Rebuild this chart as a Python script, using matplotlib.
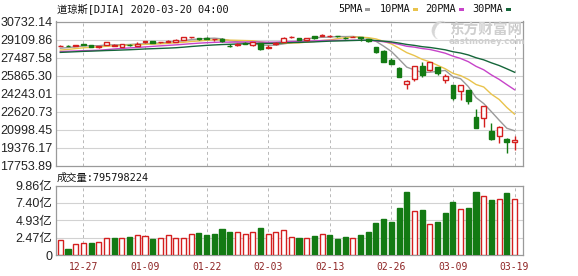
import numpy as np
import pandas as pd
import matplotlib
matplotlib.use('Agg')
import matplotlib.pyplot as plt
from matplotlib.patches import Rectangle

# ---------------- data ----------------
dates = ['12-23', '12-24', '12-26', '12-27', '12-30', '12-31', '01-02', '01-03', '01-06', '01-07',
         '01-08', '01-09', '01-10', '01-13', '01-14', '01-15', '01-16', '01-17', '01-21', '01-22',
         '01-23', '01-24', '01-27', '01-28', '01-29', '01-30', '01-31', '02-03', '02-04', '02-05',
         '02-06', '02-07', '02-10', '02-11', '02-12', '02-13', '02-14', '02-18', '02-19', '02-20',
         '02-21', '02-24', '02-25', '02-26', '02-27', '02-28', '03-02', '03-03', '03-04', '03-05',
         '03-06', '03-09', '03-10', '03-11', '03-12', '03-13', '03-16', '03-17', '03-18', '03-19']

opens = [28491.78, 28572.57, 28539.46, 28675.34, 28654.76, 28414.64, 28638.97, 28553.33, 28465.50, 28639.18,
         28556.14, 28851.41, 28977.11, 28874.82, 28899.00, 28924.30, 29109.43, 29313.31, 29274.03, 29263.31,
         29121.00, 29202.26, 28542.49, 28602.56, 28820.53, 28640.16, 28813.04, 28319.65, 28696.63, 28933.81,
         29361.50, 29286.92, 29094.73, 29390.91, 29406.75, 29420.97, 29440.47, 29279.14, 29313.39, 29329.07,
         29146.01, 28402.93, 28093.79, 27246.99, 26571.87, 25116.57, 25590.51, 26762.47, 26383.68, 26671.92,
         25457.21, 24992.36, 24453.00, 24604.63, 22184.71, 22050.00, 20910.00, 20460.00, 20220.00, 19950.00]

highs = [28582.49, 28576.80, 28624.10, 28701.66, 28664.69, 28547.35, 28872.80, 28716.31, 28708.02, 28685.50,
         28866.18, 28988.01, 29009.07, 28908.03, 29064.00, 29127.00, 29300.32, 29373.62, 29283.00, 29373.00,
         29187.00, 29236.00, 28674.00, 28789.00, 28894.00, 28873.00, 28813.04, 28592.00, 28856.00, 29306.00,
         29408.00, 29286.92, 29277.00, 29415.00, 29568.00, 29501.00, 29463.00, 29366.00, 29407.00, 29371.00,
         29146.01, 28402.93, 28157.00, 27492.00, 26643.00, 25494.00, 26706.17, 27084.59, 27102.34, 26671.92,
         25994.38, 24992.36, 25020.99, 24604.63, 22837.95, 23185.62, 21650.00, 21350.00, 20300.00, 20460.00]

lows = [28491.78, 28503.21, 28535.15, 28608.98, 28428.98, 28376.49, 28627.77, 28500.36, 28418.63, 28565.28,
        28522.51, 28844.31, 28789.68, 28768.00, 28882.00, 28889.00, 29055.00, 29265.00, 29107.00, 29170.00,
        28966.00, 28870.00, 28440.00, 28563.00, 28703.00, 28504.00, 28169.00, 28319.65, 28589.00, 28933.81,
        29246.00, 29056.00, 29022.00, 29190.00, 29406.75, 29328.00, 29299.00, 29128.00, 29313.39, 28941.00,
        28878.00, 27912.00, 27050.00, 26951.00, 25762.00, 24681.01, 25391.11, 25706.28, 26286.31, 25943.33,
        25226.62, 23706.07, 23690.34, 23328.32, 21154.46, 21285.37, 20116.42, 19860.00, 18917.46, 19173.98]

closes = [28551.53, 28515.45, 28621.39, 28645.26, 28462.14, 28538.44, 28868.80, 28634.88, 28703.38, 28583.68,
          28745.09, 28956.90, 28823.77, 28907.05, 28939.67, 29030.22, 29297.64, 29348.10, 29196.04, 29186.27,
          29160.09, 28989.73, 28535.80, 28722.85, 28734.45, 28859.44, 28256.03, 28399.81, 28807.63, 29290.85,
          29379.77, 29102.51, 29276.82, 29276.34, 29551.42, 29423.31, 29398.08, 29232.19, 29348.03, 29219.98,
          28992.41, 27960.80, 27081.36, 26957.59, 25766.64, 25409.36, 26703.32, 25917.41, 27090.86, 26121.28,
          25864.78, 23851.02, 25018.16, 23553.22, 21200.62, 23185.62, 20188.52, 21237.38, 19898.92, 20087.19]

# closes of the 29 sessions before 12-23 (oldest first), used for the moving averages
prior_closes = [27681.24, 27691.49, 27691.49, 27783.59, 27781.96, 28004.89, 28036.22, 27934.02, 27821.09, 27766.29,
                27875.62, 28066.47, 28121.68, 28164.00, 28051.41, 27783.04, 27502.81, 27649.78, 27677.79, 28015.06,
                27909.60, 27881.72, 27911.30, 28132.05, 28135.38, 28235.89, 28267.16, 28239.28, 28376.96]
prev_close_first = 28455.09

volumes = [2.11, 0.85, 1.55, 1.73, 1.73, 1.88, 2.35, 2.35, 2.35, 2.58,
           2.82, 2.68, 2.25, 2.35, 2.82, 2.44, 2.44, 3.05, 3.14, 2.82,
           3.05, 3.66, 3.28, 3.20, 2.96, 3.20, 3.90, 2.96, 3.20, 3.52,
           2.50, 2.40, 2.40, 2.70, 2.95, 2.85, 2.30, 2.55, 2.40, 2.85,
           3.20, 4.60, 5.10, 4.75, 6.60, 9.00, 6.20, 6.35, 4.40, 4.75,
           5.95, 7.55, 6.50, 6.65, 9.00, 8.30, 7.75, 7.90, 8.80, 7.96]

price_ticks = [17753.89, 19376.17, 20998.45, 22620.73, 24243.01, 25865.30, 27487.58, 29109.86, 30732.14]
vol_ticks = [0, 2.465, 4.93, 7.395, 9.86]
vol_tick_labels = ['0', '2.47亿', '4.93亿', '7.40亿', '9.86亿']
date_labels = ['12-27', '01-09', '01-22', '02-03', '02-13', '02-26', '03-09', '03-19']
ma_periods = [5, 10, 20, 30]
ma_names = ['5PMA', '10PMA', '20PMA', '30PMA']
title = '道琼斯[DJIA] 2020-03-20 04:00'
vol_title = '成交量:795798224'

# ---------------- style ----------------
W, H = 578, 276
RED = '#d41f1f'
GREEN = '#137a13'
MA_COLORS = ['#9a9a9a', '#e9c34c', '#c744c9', '#15663a']
GRID = '#d2d2d2'
SPINE = '#9a9a9a'
DATE_COLOR = '#8e2424'
MONO = ['DejaVu Sans Mono', 'Noto Sans CJK SC']
SANS = ['Liberation Sans', 'Noto Sans CJK SC']


def fx(px):
    return px / W


def fy(py):
    return 1 - py / H


fig = plt.figure(figsize=(W / 100, H / 100), dpi=100)
fig.patch.set_facecolor('white')

left, right = 56, 523
axp = fig.add_axes([fx(left), fy(166), fx(right) - fx(left), fy(21.5) - fy(166)])
axv = fig.add_axes([fx(left), fy(255), fx(right) - fx(left), fy(185.5) - fy(255)])

n = len(dates)
x = np.arange(n)
o = np.array(opens)
h = np.array(highs)
l = np.array(lows)
c = np.array(closes)

# moving averages
allc = pd.Series(prior_closes + closes)
mas = [allc.rolling(p).mean().values[len(prior_closes):] for p in ma_periods]

date_idx = [dates.index(d) for d in date_labels]

for ax in (axp, axv):
    ax.set_xlim(-0.56, n + 0.1)
    for s in ax.spines.values():
        s.set_color(SPINE)
        s.set_linewidth(0.9)
    ax.tick_params(length=0)
    for xi in date_idx:
        ax.axvline(xi, color='#b8b8b8', lw=0.7, ls=(0, (3, 3)), zorder=0)

# price panel
axp.set_ylim(price_ticks[0], price_ticks[-1])
axp.set_yticks(price_ticks)
axp.set_yticklabels([f'{v:.2f}' for v in price_ticks], family=SANS, fontsize=9, color='#222222')
axp.tick_params(axis='y', pad=2.5)
axp.set_xticks([])
for v in price_ticks[1:-1]:
    axp.axhline(v, color=GRID, lw=0.8, zorder=0)

# watermark
fig.text(fx(486), fy(30), '东方财富网', family=['Noto Sans CJK SC'], fontweight='bold',
         fontsize=10.5, color='#cfcfcf', ha='center', va='center', zorder=1)
fig.text(fx(487), fy(41.5), 'eastmoney.com', family=['DejaVu Sans'], fontweight='bold',
         fontsize=6.2, color='#cfcfcf', ha='center', va='center', zorder=1)
fig.text(fx(436), fy(31), '\u2768', family=['DejaVu Sans'], fontweight='bold',
         fontsize=15, color='#d6d6d6', ha='center', va='center', rotation=-25, zorder=1)

for ma, col in zip(mas, MA_COLORS):
    axp.plot(x, ma, color=col, lw=1.0, zorder=2)

up = c >= o
body_w = 0.62
for i in range(n):
    col = RED if up[i] else GREEN
    axp.vlines(x[i], l[i], h[i], color=col, lw=1.0, zorder=3)
    lo, hi = min(o[i], c[i]), max(o[i], c[i])
    axp.bar(x[i], hi - lo, bottom=lo, width=body_w,
            facecolor='white' if up[i] else col, edgecolor=col, lw=1.0, zorder=4)

# volume panel
prev = np.concatenate([[prev_close_first], c[:-1]])
vup = c >= prev
axv.set_ylim(0, vol_ticks[-1])
axv.set_yticks(vol_ticks)
axv.set_yticklabels(vol_tick_labels, family=SANS, fontsize=9, color='#222222')
axv.tick_params(axis='y', pad=2.5)
for v in vol_ticks[1:-1]:
    axv.axhline(v, color=GRID, lw=0.8, zorder=0)
vols = np.array(volumes)
axv.bar(x[vup], vols[vup], width=0.66, facecolor='white', edgecolor=RED, lw=1.0, zorder=3)
axv.bar(x[~vup], vols[~vup], width=0.66, facecolor=GREEN, edgecolor=GREEN, lw=1.0, zorder=3)
axv.set_xticks(date_idx)
axv.set_xticklabels(date_labels, family=MONO, fontsize=7, color=DATE_COLOR)
axv.tick_params(axis='x', pad=5)

# titles and legend
fig.text(fx(57), fy(9.5), title, family=MONO, fontsize=7.4, color='#111111', ha='left', va='center')
fig.text(fx(57), fy(177.5), vol_title, family=MONO, fontsize=7.4, color='#111111', ha='left', va='center')

leg_x = [338, 380, 425, 472]
dash_x = [365, 413, 459, 506]
for name, col, tx, dx in zip(ma_names, MA_COLORS, leg_x, dash_x):
    fig.text(fx(tx), fy(9.5), name, family=MONO, fontsize=7.4, color='#111111', ha='left', va='center')
    fig.add_artist(Rectangle((fx(dx), fy(11)), 5 / W, 3 / H, transform=fig.transFigure,
                             facecolor=col, edgecolor='none'))

fig.savefig('out.png', dpi=100, facecolor='white')
